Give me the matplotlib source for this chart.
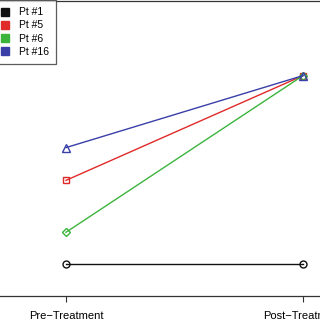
import matplotlib
matplotlib.use("Agg")
import matplotlib.pyplot as plt
from matplotlib.lines import Line2D

# data (arbitrary units, axis hidden)
timepoints = ["Pre\u2212Treatment", "Post\u2212Treatment"]
patients = ["Pt #1", "Pt #5", "Pt #6", "Pt #16"]
pre_values = [10.8, 39.2, 21.6, 50.3]
post_values = [10.8, 74.7, 74.7, 74.7]

colors = ["#111111", "#e02a2a", "#3cb43c", "#3a3fa8"]
markers = ["o", "s", "D", "^"]
msizes = [5, 5, 4.5, 5.5]

plt.rcParams['font.family'] = ['Liberation Sans', 'DejaVu Sans']

fig = plt.figure(figsize=(3.2, 3.2), dpi=100)
ax = fig.add_axes([0.0, 0.075, 1.0, 0.922])

x = [1, 2]
for i in range(len(patients)):
    ax.plot(x, [pre_values[i], post_values[i]], color=colors[i], linewidth=1.0,
            marker=markers[i], markersize=msizes[i], markerfacecolor='none',
            markeredgecolor=colors[i], markeredgewidth=1.0, zorder=3 + i)

ax.set_xlim(1 - 66 / 237, 2 + 17 / 237)
ax.set_ylim(0, 100)
ax.set_xticks(x)
ax.set_xticklabels(timepoints, fontsize=8)
ax.tick_params(axis='x', length=4, width=0.8, pad=7, color='#333333')
ax.set_yticks([])
for s in ['left', 'right']:
    ax.spines[s].set_visible(False)
for s in ['top', 'bottom']:
    ax.spines[s].set_linewidth(0.9)
    ax.spines[s].set_color('#333333')

handles = [Line2D([], [], linestyle='none', marker='s', markersize=5.5,
                  color=c) for c in colors]
leg = fig.legend(handles, patients, loc='upper left', bbox_to_anchor=(-0.02, 1.0),
                 fontsize=7.5, frameon=True, fancybox=False, edgecolor='#333333',
                 borderaxespad=0, handlelength=0.8, handletextpad=0.9,
                 labelspacing=0.3, borderpad=0.7)
leg.get_frame().set_linewidth(0.9)

fig.savefig("out.png", dpi=100)
